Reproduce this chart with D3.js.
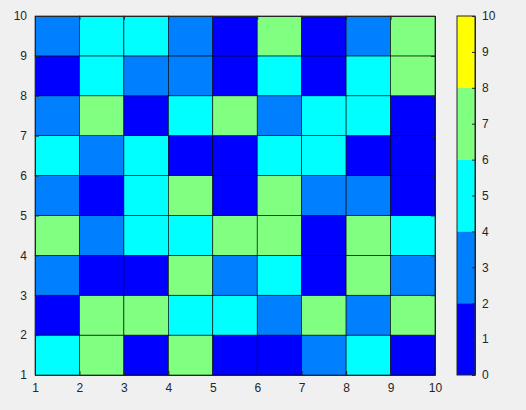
<!DOCTYPE html>
<html><head><meta charset="utf-8">
<script src="https://cdn.jsdelivr.net/npm/d3@7"></script>
<style>body{margin:0;background:#f0f0f0}svg{display:block}text{font-family:"Liberation Sans",Arial,sans-serif;font-size:12px;fill:#262626}</style>
</head><body><svg id="c" width="526" height="410"></svg>
<script>
const xTicks = [1,2,3,4,5,6,7,8,9,10];
const yTicks = [1,2,3,4,5,6,7,8,9,10];
const cbTicks = [0,1,2,3,4,5,6,7,8,9,10];
const palette = ["#0000ff","#0080ff","#00ffff","#80ff80","#ffff00"];
// rows from y=1 (bottom) to y=9 (top); values in 0..10
const row1 = [5,7,1,7,1,1,3,5,1];
const row2 = [1,7,7,5,5,3,7,3,7];
const row3 = [3,1,1,7,3,5,1,7,3];
const row4 = [7,3,5,5,7,7,1,7,5];
const row5 = [3,1,5,7,1,7,3,3,1];
const row6 = [5,3,5,1,1,5,5,1,1];
const row7 = [3,7,1,5,7,3,5,5,1];
const row8 = [1,5,3,3,1,5,1,5,7];
const row9 = [3,5,5,3,1,7,1,3,7];
const rows = [row1,row2,row3,row4,row5,row6,row7,row8,row9];

const svg = d3.select("#c");
const L=35,R=435,T=16,B=375;
const x = d3.scaleLinear().domain([1,10]).range([L,R]);
const y = d3.scaleLinear().domain([1,10]).range([B,T]);
const color = d3.scaleQuantize().domain([0,10]).range(palette);

const cells = rows.flatMap((r,j)=>r.map((v,i)=>({x:i+1,y:j+1,v})));
svg.append("g").selectAll("rect").data(cells).join("rect")
  .attr("x",d=>x(d.x)).attr("y",d=>y(d.y+1))
  .attr("width",x(2)-x(1)).attr("height",y(1)-y(2))
  .attr("fill",d=>color(d.v)).attr("stroke","#000").attr("stroke-width",0.6);

function style(g){g.select(".domain").attr("stroke","#262626");g.selectAll(".tick line").attr("stroke","#262626");g.selectAll("text").attr("font-size",12).attr("fill","#262626").attr("font-family","Liberation Sans, Arial, sans-serif");}
svg.append("g").attr("transform",`translate(0,${B})`).call(d3.axisBottom(x).tickValues(xTicks).tickSize(-4).tickPadding(8).tickSizeOuter(0)).call(style);
svg.append("g").attr("transform",`translate(${L},0)`).call(d3.axisLeft(y).tickValues(yTicks).tickSize(-4).tickPadding(8).tickSizeOuter(0)).call(style);
svg.append("g").attr("transform",`translate(0,${T})`).call(d3.axisTop(x).tickValues(xTicks).tickSize(-4).tickFormat("").tickSizeOuter(0)).call(style);
svg.append("g").attr("transform",`translate(${R},0)`).call(d3.axisRight(y).tickValues(yTicks).tickSize(-4).tickFormat("").tickSizeOuter(0)).call(style);

// colorbar
const CL=457,CR=475;
const cy = d3.scaleLinear().domain([0,10]).range([B,T]);
svg.append("g").selectAll("rect").data(palette).join("rect")
  .attr("x",CL).attr("width",CR-CL)
  .attr("y",(d,i)=>cy((i+1)*2)).attr("height",(d,i)=>cy(i*2)-cy((i+1)*2))
  .attr("fill",d=>d);
svg.append("rect").attr("x",CL).attr("y",T).attr("width",CR-CL).attr("height",B-T).attr("fill","none").attr("stroke","#262626");
svg.append("g").attr("transform",`translate(${CR},0)`).call(d3.axisRight(cy).tickValues(cbTicks).tickSize(-3).tickPadding(7).tickSizeOuter(0)).call(style);
</script></body></html>
